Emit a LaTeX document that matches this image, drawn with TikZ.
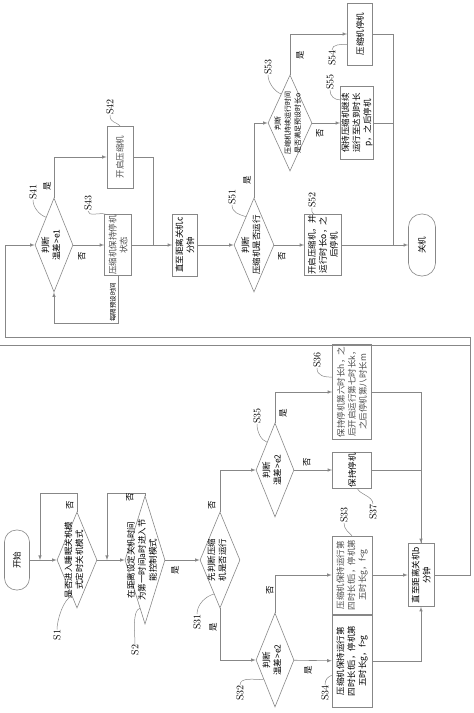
\documentclass[tikz,border=0pt]{standalone}
\usepackage{fontspec}
\newfontfamily\cjk{Noto Sans CJK SC}
\usetikzlibrary{shapes.geometric}
\definecolor{linegray}{RGB}{135,135,135}
\tikzset{every picture/.style={/utils/exec={\cjk}}}
\tikzset{
  flow/.style={draw=linegray, line width=0.6pt},
  box/.style={flow, rectangle, rotate=90, align=center, inner sep=0.5pt,
    font=\cjk\fontsize{8.5}{11}\selectfont},
  term/.style={box, rounded corners=12pt},
  dmd/.style={flow, diamond, rotate=90, inner sep=0pt,
    font=\cjk\fontsize{8.5}{11}\selectfont},
  yn/.style={rotate=90, inner sep=0pt, font=\cjk\fontsize{8.5}{10}\selectfont},
  slbl/.style={rotate=90, inner sep=0pt, font=\rmfamily\fontsize{10}{12}\selectfont},
  lead/.style={draw=linegray, line width=0.5pt}
}
\newcommand{\dtext}[1]{\makebox[0pt]{\smash{\begin{tabular}{@{}c@{}}#1\end{tabular}}}}

\begin{document}
\begin{tikzpicture}[x=1pt, y=-1pt, >=latex]
  \useasboundingbox (0,0) rectangle (474,713);

  % first part
  \node[term, minimum width=60, minimum height=25] (start) at (17,560) {开始};
  \node[dmd, minimum width=96, minimum height=40] (S1) at (77,560) {\dtext{是否进入睡眠关机模\\式定时关机模式}};
  \node[dmd, minimum width=128, minimum height=40] (S2) at (145,560) {\dtext{在距离设定关机时间\\为第一时间a时进入节\\能控制模式}};
  \node[dmd, minimum width=96, minimum height=40] (S31) at (220,560) {\dtext{先判断压缩\\机是否运行}};
  \node[dmd, minimum width=94, minimum height=38] (S35) at (275,470) {\dtext{判断\\温差>e2}};
  \node[dmd, minimum width=94, minimum height=38] (S32) at (275,660) {\dtext{判断\\温差>e2}};
  \node[box, minimum width=95, minimum height=39, text=black!70] (S36) at (352,392) {保持停机第六时长h，之\\后开启运行第七时长k，\\之后停机第八时长m};
  \node[box, minimum width=36, minimum height=39] (S37) at (352,470) {保持停机};
  \node[box, minimum width=78, minimum height=40, text=black!70] (S33) at (352,575) {压缩机保持运行第\\四时长f后，停机第\\五时长g，f<g};
  \node[box, minimum width=92, minimum height=40] (S34) at (352,661) {压缩机保持运行第\\四时长f后，停机第\\五时长g，f>g};
  \node[box, minimum width=63, minimum height=26] (bbox) at (421,575) {直至距离关机b\\分钟};

  \coordinate (s1top) at (77,493);
  \coordinate (j1) at (40,560);
  \coordinate (s2top) at (145,493);
  \coordinate (j2) at (107,560);
  \coordinate (r1) at (470,337);
  \coordinate (l1) at (5,337);

  \draw[flow,->] (start) -- (S1);
  \draw[flow,->] (S1.east) -- (s1top) -| (j1);
  \draw[flow,->] (S1) -- (S2);
  \draw[flow,->] (S2.east) -- (s2top) -| (j2);
  \draw[flow,->] (S2) -- (S31);
  \draw[flow,->] (S31.east) |- (S35);
  \draw[flow,->] (S31.west) |- (S32);
  \draw[flow,->] (S35.east) |- (S36);
  \draw[flow,->] (S35) -- (S37);
  \draw[flow,->] (S32.east) |- (S33);
  \draw[flow,->] (S32) -- (S34);
  \draw[flow,->] (S36) -| (bbox);
  \draw[flow] (S37) -| (bbox);
  \draw[flow,->] (S33) -- (bbox);
  \draw[flow,->] (S34) -| (bbox);

  \node[yn] (n1) at (70,505) {否};
  \node[yn] (n2) at (130,497) {否};
  \node[yn] (y2) at (175,570) {是};
  \node[yn] (n31) at (212,505) {否};
  \node[yn] (y31) at (213,627) {是};
  \node[yn] (y35) at (283,413) {是};
  \node[yn] (n35) at (307,462) {否};
  \node[yn] (n32) at (270,590) {否};
  \node[yn] (y32) at (308,670) {是};

  \node[slbl] (S1l) at (57,635) {S1};
  \node[slbl] (S2l) at (135,650) {S2};
  \node[slbl] (S31l) at (197,622) {S31};
  \node[slbl] (S32l) at (240,693) {S32};
  \node[slbl] (S35l) at (257,416) {S35};
  \node[slbl] (S36l) at (317,360) {S36};
  \node[slbl] (S37l) at (373,512) {S37};
  \node[slbl] (S33l) at (344,515) {S33};
  \node[slbl] (S34l) at (325,693) {S34};
  \draw[lead] (S1l.east) .. controls +(0,-10) and +(-8,2) .. (S1.172);
  \draw[lead] (S2l.east) .. controls +(0,-10) and +(-8,2) .. (S2.174);
  \draw[lead] (S31l.east) .. controls +(0,-10) and +(-8,2) .. (S31.170);
  \draw[lead] (S32l.east) .. controls +(0,-8) and +(-10,0) .. (S32.150);
  \draw[lead] (S35l.west) .. controls +(0,8) and +(-6,-2) .. (S35.16);
  \draw[lead] (S36l.west) .. controls +(0,8) and +(-8,0) .. (S36.53);
  \draw[lead] (S37l.east) .. controls +(0,-8) and +(2,6) .. (S37.196);
  \draw[lead] (S33l.west) .. controls +(0,6) and +(-4,-4) .. (S33.east);
  \draw[lead] (S34l.east) .. controls +(0,-6) and +(-4,2) .. (S34.125);

  % second part
  \node[dmd, minimum width=94, minimum height=38] (S41) at (54,245) {\dtext{判断\\温差>e1}};
  \node[box, minimum width=62, minimum height=26, text=black!70] (S42) at (120,157) {开启压缩机};
  \node[box, minimum width=61, minimum height=27, text=black!70] (S43) at (118,245) {压缩机保持停机\\状态};
  \node[box, minimum width=62, minimum height=25] (cbox) at (185,245) {直至距离关机c\\分钟};
  \node[dmd, minimum width=94, minimum height=40] (S51) at (254,245) {\dtext{判断\\压缩机是否运行}};
  \node[box, minimum width=61, minimum height=37] (S52) at (323,245) {开启压缩机，并\\运行时长o，之\\后停机};
  \node[dmd, minimum width=96, minimum height=44, font=\cjk\fontsize{7}{10}\selectfont] (S53) at (290,123) {\dtext{判断\\压缩机持续运行时间\\是否满足预设时长o}};
  \node[box, minimum width=62, minimum height=25] (S54) at (360,34) {压缩机停机};
  \node[box, minimum width=73, minimum height=33] (S55) at (357,123) {保持压缩机继续\\运行至达到时长\\p，之后停机};
  \node[term, minimum width=62, minimum height=27, rounded corners=13pt] (stop) at (422,245) {关机};

  % back to the second part
  \draw[flow,->] (bbox.south) -| (r1) -- (l1) |- (S41);

  \coordinate (j4) at (54,323);
  \coordinate (j5) at (153,245);
  \coordinate (j6) at (393,245);

  \draw[flow,->] (S41.east) |- (S42);
  \draw[flow,->] (S41) -- (S43);
  \draw[flow,->] (S43.west) |- (j4) -- (S41.west);
  \draw[flow] (S42.south) -| (j5);
  \draw[flow,->] (S43) -- (cbox);
  \draw[flow,->] (cbox) -- (S51);
  \draw[flow,->] (S51.east) |- (S53);
  \draw[flow,->] (S51) -- (S52);
  \draw[flow,->] (S52) -- (stop);
  \draw[flow,->] (S53.east) |- (S54);
  \draw[flow,->] (S53) -- (S55);
  \draw[flow] (S54.south) -| (j6);
  \draw[flow] (S55.south) -| (j6);

  \node[yn, font=\cjk\fontsize{6.5}{8}\selectfont] (every) at (113,302) {每隔预设时间};
  \node[yn] (y41) at (47,186) {是};
  \node[yn] (n41) at (82,256) {否};
  \node[yn] (y51) at (247,180) {是};
  \node[yn] (n51) at (282,256) {否};
  \node[yn] (y53) at (300,55) {是};
  \node[yn] (n53) at (320,133) {否};

  \node[slbl] (S41l) at (33,192) {S41};
  \node[slbl] (S42l) at (110,107) {S42};
  \node[slbl] (S43l) at (88,203) {S43};
  \node[slbl] (S51l) at (232,197) {S51};
  \node[slbl] (S52l) at (312,200) {S52};
  \node[slbl] (S53l) at (268,67) {S53};
  \node[slbl] (S54l) at (332,58) {S54};
  \node[slbl] (S55l) at (330,82) {S55};
  \draw[lead] (S41l.west) .. controls +(0,8) and +(-6,-2) .. (S41.16);
  \draw[lead] (S42l.west) .. controls +(0,8) and +(-4,-4) .. (S42.east);
  \draw[lead] (S43l.west) .. controls +(0,6) and +(-6,-2) .. (S43.22);
  \draw[lead] (S51l.west) .. controls +(0,8) and +(-6,-2) .. (S51.16);
  \draw[lead] (S52l.west) .. controls +(0,3) and +(-3,-2) .. (S52.16);
  \draw[lead] (S53l.west) .. controls +(0,8) and +(-6,-2) .. (S53.17);
  \draw[lead] (S54l.east) .. controls +(0,-6) and +(-6,0) .. (S54.129);
  \draw[lead] (S55l.west) .. controls +(0,6) and +(-6,0) .. (S55.36);

  % frame
  \draw[flow] (0,345) -- (470,345);
\end{tikzpicture}
\end{document}
